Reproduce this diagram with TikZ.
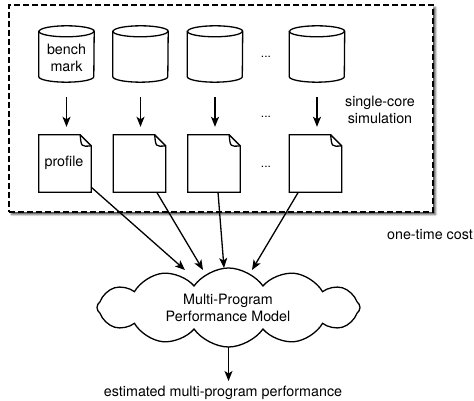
\documentclass[tikz,border=0pt]{standalone}
\usepackage{fontspec}
\setmainfont{TeX Gyre Heros}
\usetikzlibrary{shapes.symbols,arrows.meta,shadows.blur}
\newcommand\mycyl[1]{%
  \draw[lw] ([yshift=-5.5pt]#1.north west) -- ([yshift=5.5pt]#1.south west)
    arc[start angle=180,end angle=360,x radius=27.5pt,y radius=5.5pt]
    -- ([yshift=-5.5pt]#1.north east)
    arc[start angle=0,end angle=180,x radius=27.5pt,y radius=5.5pt] -- cycle;
  \draw[lw] ([yshift=-5.5pt]#1.north west)
    arc[start angle=180,end angle=360,x radius=27.5pt,y radius=5.5pt];}
\newcommand\mydoc[1]{%
  \draw[lw,line join=miter] (#1.north west) -- ([xshift=-11pt]#1.north east)
    -- ([yshift=-11pt]#1.north east) -- (#1.south east) -- (#1.south west) -- cycle;
  \draw[lw] ([xshift=-11pt]#1.north east) .. controls ([xshift=-10pt,yshift=-12pt]#1.north east) .. ([yshift=-11pt]#1.north east);}
\begin{document}
\begin{tikzpicture}[x=1pt,y=1pt,
  lw/.style={line width=1.3pt},
  arr/.style={lw,-{Stealth[length=10pt,width=8pt,inset=2.5pt]}},
  cylbox/.style={minimum width=55pt,minimum height=56pt,inner sep=0pt},
  docbox/.style={minimum width=52pt,minimum height=57pt,inner sep=0pt},
  lbl/.style={font=\fontsize{14.3}{17}\selectfont,align=center,inner sep=0pt},
  dots/.style={font=\fontsize{12}{14}\selectfont,inner sep=0pt},
]
\useasboundingbox (0,0) rectangle (474,401);
\node[draw,lw,dash pattern=on 6pt off 3pt,fill=white,minimum width=424pt,minimum height=207pt,
  blur shadow={shadow xshift=2.5pt,shadow yshift=-2.5pt,shadow blur radius=2pt,shadow opacity=70}]
  (frame) at (221,292.5) {};
% cylinders
\node[cylbox] (c1) at (66.5,347) {};
\node[cylbox] (c2) at (140.5,347) {};
\node[cylbox] (c3) at (215,347) {};
\node[cylbox] (c4) at (317,347) {};
\mycyl{c1}\mycyl{c2}\mycyl{c3}\mycyl{c4}
\node[lbl] (bm) at (66.5,343) {bench\\mark};
% documents
\node[docbox] (d1) at (65,237.5) {};
\node[docbox] (d2) at (139.5,237.5) {};
\node[docbox] (d3) at (214,237.5) {};
\node[docbox] (d4) at (315.5,237.5) {};
\mydoc{d1}\mydoc{d2}\mydoc{d3}\mydoc{d4}
\node[lbl] (pf) at (64,238) {profile};
% dots
\node[dots] (e1) at (266,344) {...};
\node[dots] (e2) at (266,284) {...};
\node[dots] (e3) at (266,234) {...};
\node[lbl] (sim) at (380,291) {single-core\\simulation};
% vertical arrows
\foreach \i in {1,2,3,4}
  \draw[arr,shorten <=15pt,shorten >=8pt] (c\i.south) -- (c\i.south |- d\i.north);
% cloud
\node[cloud,draw,lw,fill=white,cloud puffs=12,cloud puff arc=110,aspect=3.3,
  minimum width=263pt,minimum height=79pt,inner sep=0pt] (model) at (228.5,93.5) {};
\node[lbl] (mt) at (228,93) {Multi-Program\\Performance Model};
\draw[arr] ([yshift=5pt]d1.south east) -- ([shift={(-43.5,37.5)}]model.center);
\draw[arr] ([xshift=-9pt]d2.south east) -- ([shift={(-25.5,37.5)}]model.center);
\draw[arr] ([xshift=4pt]d3.south) -- ([shift={(-4.5,39.5)}]model.center);
\draw[arr] ([xshift=9pt]d4.south west) -- ([shift={(23.5,37.5)}]model.center);
\node[lbl] (cost) at (430,166) {one-time cost};
\node[lbl] (est) at (223,8) {estimated multi-program performance};
\draw[arr,shorten <=39.5pt,shorten >=5pt] (model.center) -- (model.center |- est.north);
\end{tikzpicture}
\end{document}
